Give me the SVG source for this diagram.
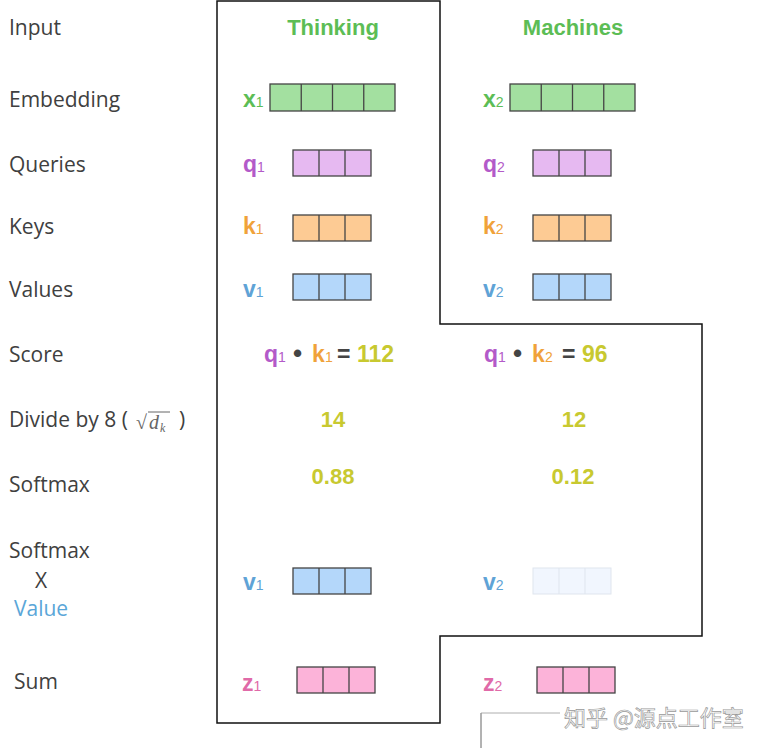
<svg xmlns="http://www.w3.org/2000/svg" width="771" height="748" viewBox="0 0 771 748">
<style>
.lbl{font-family:"Open Sans","DejaVu Sans",sans-serif;font-size:21px;fill:#404040}
.ttl{font-family:"Liberation Sans",Arial,sans-serif;font-weight:bold;font-size:22px;fill:#5cbd55}
.v{font-family:"Liberation Sans",Arial,sans-serif;font-weight:bold;font-size:23px}
.sub{font-size:14px;font-weight:normal}
.num{font-family:"Liberation Sans",Arial,sans-serif;font-weight:bold;font-size:22px;fill:#c8c930}
.cell{stroke:#444;stroke-width:1.3}
.g{fill:#a3e0a0}.p{fill:#e6b9f1}.o{fill:#fdcb94}.b{fill:#b4d7fa}.z{fill:#fcb3d9}
.tg{fill:#5cbd55}.tp{fill:#b35ac9}.to{fill:#f0a23a}.tb{fill:#5fa3d6}.tz{fill:#e06aa8}.tk{fill:#444}.ty{fill:#c8c930}
</style>
<defs>
<g id="v4"><rect x="0" y="0" width="125" height="27" class="cell"/><line x1="31.25" y1="0" x2="31.25" y2="27" class="cell"/><line x1="62.5" y1="0" x2="62.5" y2="27" class="cell"/><line x1="93.75" y1="0" x2="93.75" y2="27" class="cell"/></g>
<g id="v3"><rect x="0" y="0" width="78" height="26" class="cell"/><line x1="26" y1="0" x2="26" y2="26" class="cell"/><line x1="52" y1="0" x2="52" y2="26" class="cell"/></g>
</defs>
<rect width="771" height="748" fill="#fff"/>
<g id="connectors">
<path d="M217 1 H440 V324 H702 V636 H440 V723 H217 Z" fill="none" stroke="#111" stroke-width="1.5"/>
</g>
<g id="labels">
<text class="lbl" x="9" y="35">Input</text>
<text class="lbl" x="9" y="107">Embedding</text>
<text class="lbl" x="9" y="172">Queries</text>
<text class="lbl" x="9" y="234">Keys</text>
<text class="lbl" x="9" y="297">Values</text>
<text class="lbl" x="9" y="362">Score</text>
<text class="lbl" x="9" y="427">Divide by 8 (</text>
<text x="136" y="429" font-family="'Liberation Serif',serif" font-size="20" fill="#666">√</text>
<line x1="148" y1="412" x2="170" y2="412" stroke="#666" stroke-width="1"/>
<text x="149" y="429" font-family="'Liberation Serif',serif" font-style="italic" font-size="20" fill="#666">d</text>
<text x="160" y="432" font-family="'Liberation Serif',serif" font-style="italic" font-size="12" fill="#666">k</text>
<text class="lbl" x="179" y="427">)</text>
<text class="lbl" x="9" y="492">Softmax</text>
<text class="lbl" x="9" y="558">Softmax</text>
<text class="lbl" x="35" y="588">X</text>
<text class="lbl" x="14" y="616" style="fill:#5aa6d8">Value</text>
<text class="lbl" x="14" y="689">Sum</text>
</g>
<g id="col1">
<text class="ttl" x="333" y="35" text-anchor="middle">Thinking</text>
<text class="v tg" x="243" y="107">x<tspan class="sub">1</tspan></text>
<use href="#v4" x="270" y="84" class="g"/>
<text class="v tp" x="243" y="172">q<tspan class="sub">1</tspan></text>
<use href="#v3" x="293" y="150" class="p"/>
<text class="v to" x="243" y="234">k<tspan class="sub">1</tspan></text>
<use href="#v3" x="293" y="215" class="o"/>
<text class="v tb" x="243" y="297">v<tspan class="sub">1</tspan></text>
<use href="#v3" x="293" y="274" class="b"/>
<text class="v" y="362"><tspan class="tp" x="264">q</tspan><tspan class="tp sub" x="278">1</tspan><tspan class="tk" x="293" font-size="26">•</tspan><tspan class="to" x="312">k</tspan><tspan class="to sub" x="325">1</tspan><tspan class="tk" x="337">=</tspan><tspan class="ty" x="357">112</tspan></text>
<text class="num" x="333" y="427" text-anchor="middle">14</text>
<text class="num" x="333" y="484" text-anchor="middle">0.88</text>
<text class="v tb" x="243" y="590">v<tspan class="sub">1</tspan></text>
<use href="#v3" x="293" y="568" class="b"/>
<text class="v tz" x="242" y="691">z<tspan class="sub">1</tspan></text>
<use href="#v3" x="297" y="667" class="z"/>
</g>
<g id="col2">
<text class="ttl" x="573" y="35" text-anchor="middle">Machines</text>
<text class="v tg" x="483" y="107">x<tspan class="sub">2</tspan></text>
<use href="#v4" x="510" y="84" class="g"/>
<text class="v tp" x="483" y="172">q<tspan class="sub">2</tspan></text>
<use href="#v3" x="533" y="150" class="p"/>
<text class="v to" x="483" y="234">k<tspan class="sub">2</tspan></text>
<use href="#v3" x="533" y="215" class="o"/>
<text class="v tb" x="483" y="297">v<tspan class="sub">2</tspan></text>
<use href="#v3" x="533" y="274" class="b"/>
<text class="v" y="362"><tspan class="tp" x="484">q</tspan><tspan class="tp sub" x="498">1</tspan><tspan class="tk" x="513" font-size="26">•</tspan><tspan class="to" x="532">k</tspan><tspan class="to sub" x="545">2</tspan><tspan class="tk" x="562">=</tspan><tspan class="ty" x="582">96</tspan></text>
<text class="num" x="574" y="427" text-anchor="middle">12</text>
<text class="num" x="573" y="484" text-anchor="middle">0.12</text>
<text class="v tb" x="483" y="590">v<tspan class="sub">2</tspan></text>
<g id="v2faded" fill="#f1f6fe" stroke="#dfe5ee" stroke-width="1">
<rect x="533" y="568" width="78" height="26"/><line x1="559" y1="568" x2="559" y2="594"/><line x1="585" y1="568" x2="585" y2="594"/>
</g>
<text class="v tz" x="483" y="691">z<tspan class="sub">2</tspan></text>
<use href="#v3" x="537" y="667" class="z"/>
</g>
<g id="watermark">
<text x="564" y="726" font-family="'Noto Sans CJK SC',sans-serif" font-size="22" fill="#fff" stroke="#999" stroke-width="0.7">知乎 @源点工作室</text>
<line x1="481" y1="713" x2="481" y2="748" stroke="#666" stroke-width="1"/>
<line x1="481" y1="713" x2="560" y2="713" stroke="#999" stroke-width="0.8"/>
</g>
</svg>
